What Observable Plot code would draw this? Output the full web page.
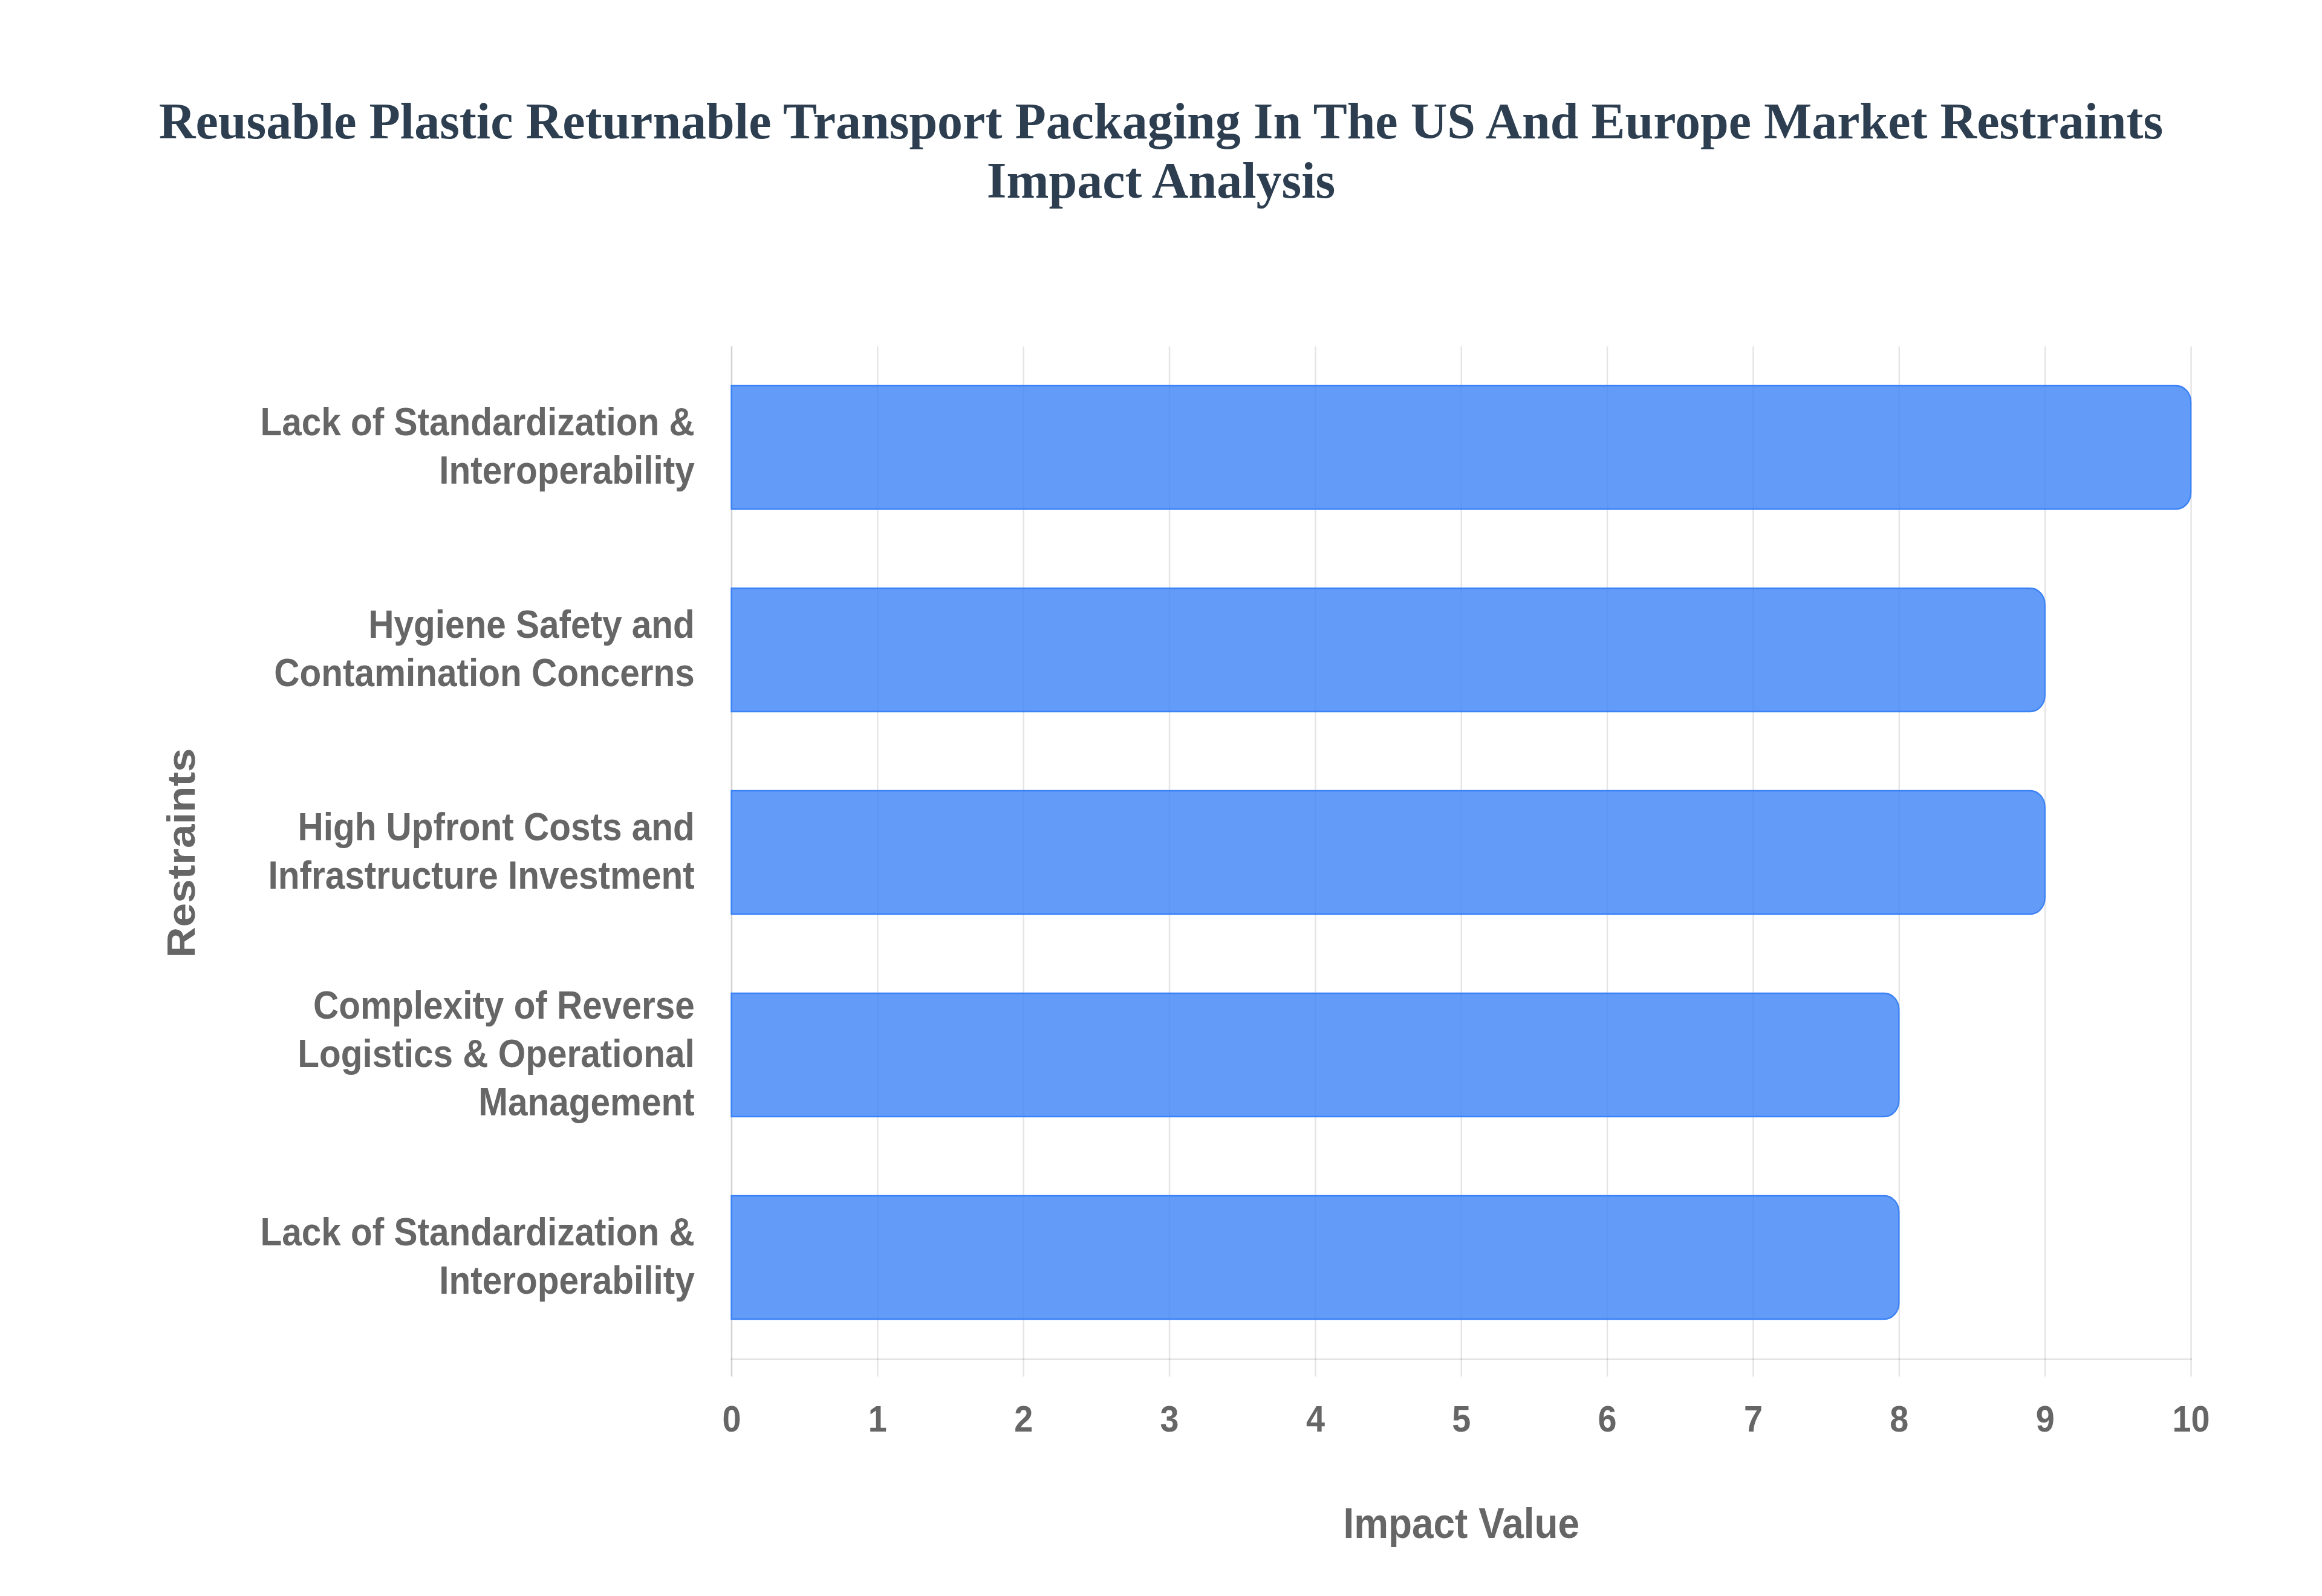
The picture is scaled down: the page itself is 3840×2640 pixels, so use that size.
<!DOCTYPE html>
<html>
<head>
<meta charset="utf-8">
<script src="https://cdn.jsdelivr.net/npm/d3@7"></script>
<script src="https://cdn.jsdelivr.net/npm/@observablehq/plot@0.6"></script>
<style>
  html, body { margin: 0; padding: 0; background: #fff; }
  #title {
    width: 3840px; height: 348px; box-sizing: border-box; padding-top: 152px;
    text-align: center; font-family: "Liberation Serif", "Times New Roman", serif;
    font-weight: bold; font-size: 84px; line-height: 98px; color: #2c3e50;
  }
</style>
</head>
<body>
<div id="title">Reusable Plastic Returnable Transport Packaging In The US And Europe Market Restraints<br>Impact Analysis</div>
<div id="chart"></div>
<script>
const restraints = [
  "Lack of Standardization &\nInteroperability",
  "Hygiene Safety and\nContamination Concerns",
  "High Upfront Costs and\nInfrastructure Investment",
  "Complexity of Reverse\nLogistics & Operational\nManagement",
  "Lack of Standardization &\nInteroperability"
];
const impact = [10, 9, 9, 8, 8];
const xTicks = [0, 1, 2, 3, 4, 5, 6, 7, 8, 9, 10];
const xTitle = "Impact Value";
const yTitle = "Restraints";

const table = restraints.map((label, i) => ({key: i, label, value: impact[i]}));

const squash = 0.9;            // chart canvas is horizontally condensed in the reference
const outW = 3840;
const W = Math.round(outW / squash);
const H = 2292;
const gray = "#666";
const font = "'Liberation Sans', Arial, Helvetica, sans-serif";

const svg = Plot.plot({
  width: W,
  height: H,
  marginTop: 225,
  marginBottom: 392,
  marginLeft: 1344,
  marginRight: W - 4026,
  style: {fontFamily: font, background: "#fff"},
  x: {domain: [0, 10]},
  y: {domain: table.map(d => d.key), paddingInner: 0.39, paddingOuter: 0.195},
  marks: [
    Plot.gridX(xTicks, {stroke: "#000", strokeOpacity: 0.1, strokeWidth: 2.8, insetBottom: -29}),
    Plot.ruleX([0], {stroke: "#000", strokeOpacity: 0.08, strokeWidth: 2.8, insetBottom: -29}),
    Plot.frame({anchor: "bottom", stroke: "#000", strokeOpacity: 0.1, strokeWidth: 3}),
    Plot.barX(table, {
      x: "value", y: "key",
      fill: "#3b82f6", fillOpacity: 0.8,
      stroke: "#3b82f6", strokeWidth: 2.5,
      rx2: 27
    }),
    Plot.axisX({ticks: xTicks, tickSize: 0, tickPadding: 75, fontSize: 62, fontWeight: "bold", fill: gray, label: null, tickFormat: d => String(d)}),
    Plot.axisY({tickSize: 0, tickPadding: 68, dy: -6, fontSize: 65, fontWeight: "bold", fill: gray, lineHeight: 1.23, label: null, tickFormat: i => restraints[i]}),
    Plot.text([xTitle], {text: d => d, frameAnchor: "bottom", dy: 245, lineAnchor: "top", fontSize: 71, fontWeight: "bold", fill: gray}),
    Plot.text([yTitle], {text: d => d, frameAnchor: "left", dx: -1009, rotate: -90, textAnchor: "middle", lineAnchor: "middle", fontSize: 71, fontWeight: "bold", fill: gray})
  ]
});

svg.setAttribute("width", outW);
svg.setAttribute("height", H);
svg.setAttribute("preserveAspectRatio", "none");
svg.style.width = outW + "px";
svg.style.height = H + "px";
svg.style.maxWidth = "none";
svg.style.display = "block";
document.getElementById("chart").appendChild(svg);
</script>
</body>
</html>
